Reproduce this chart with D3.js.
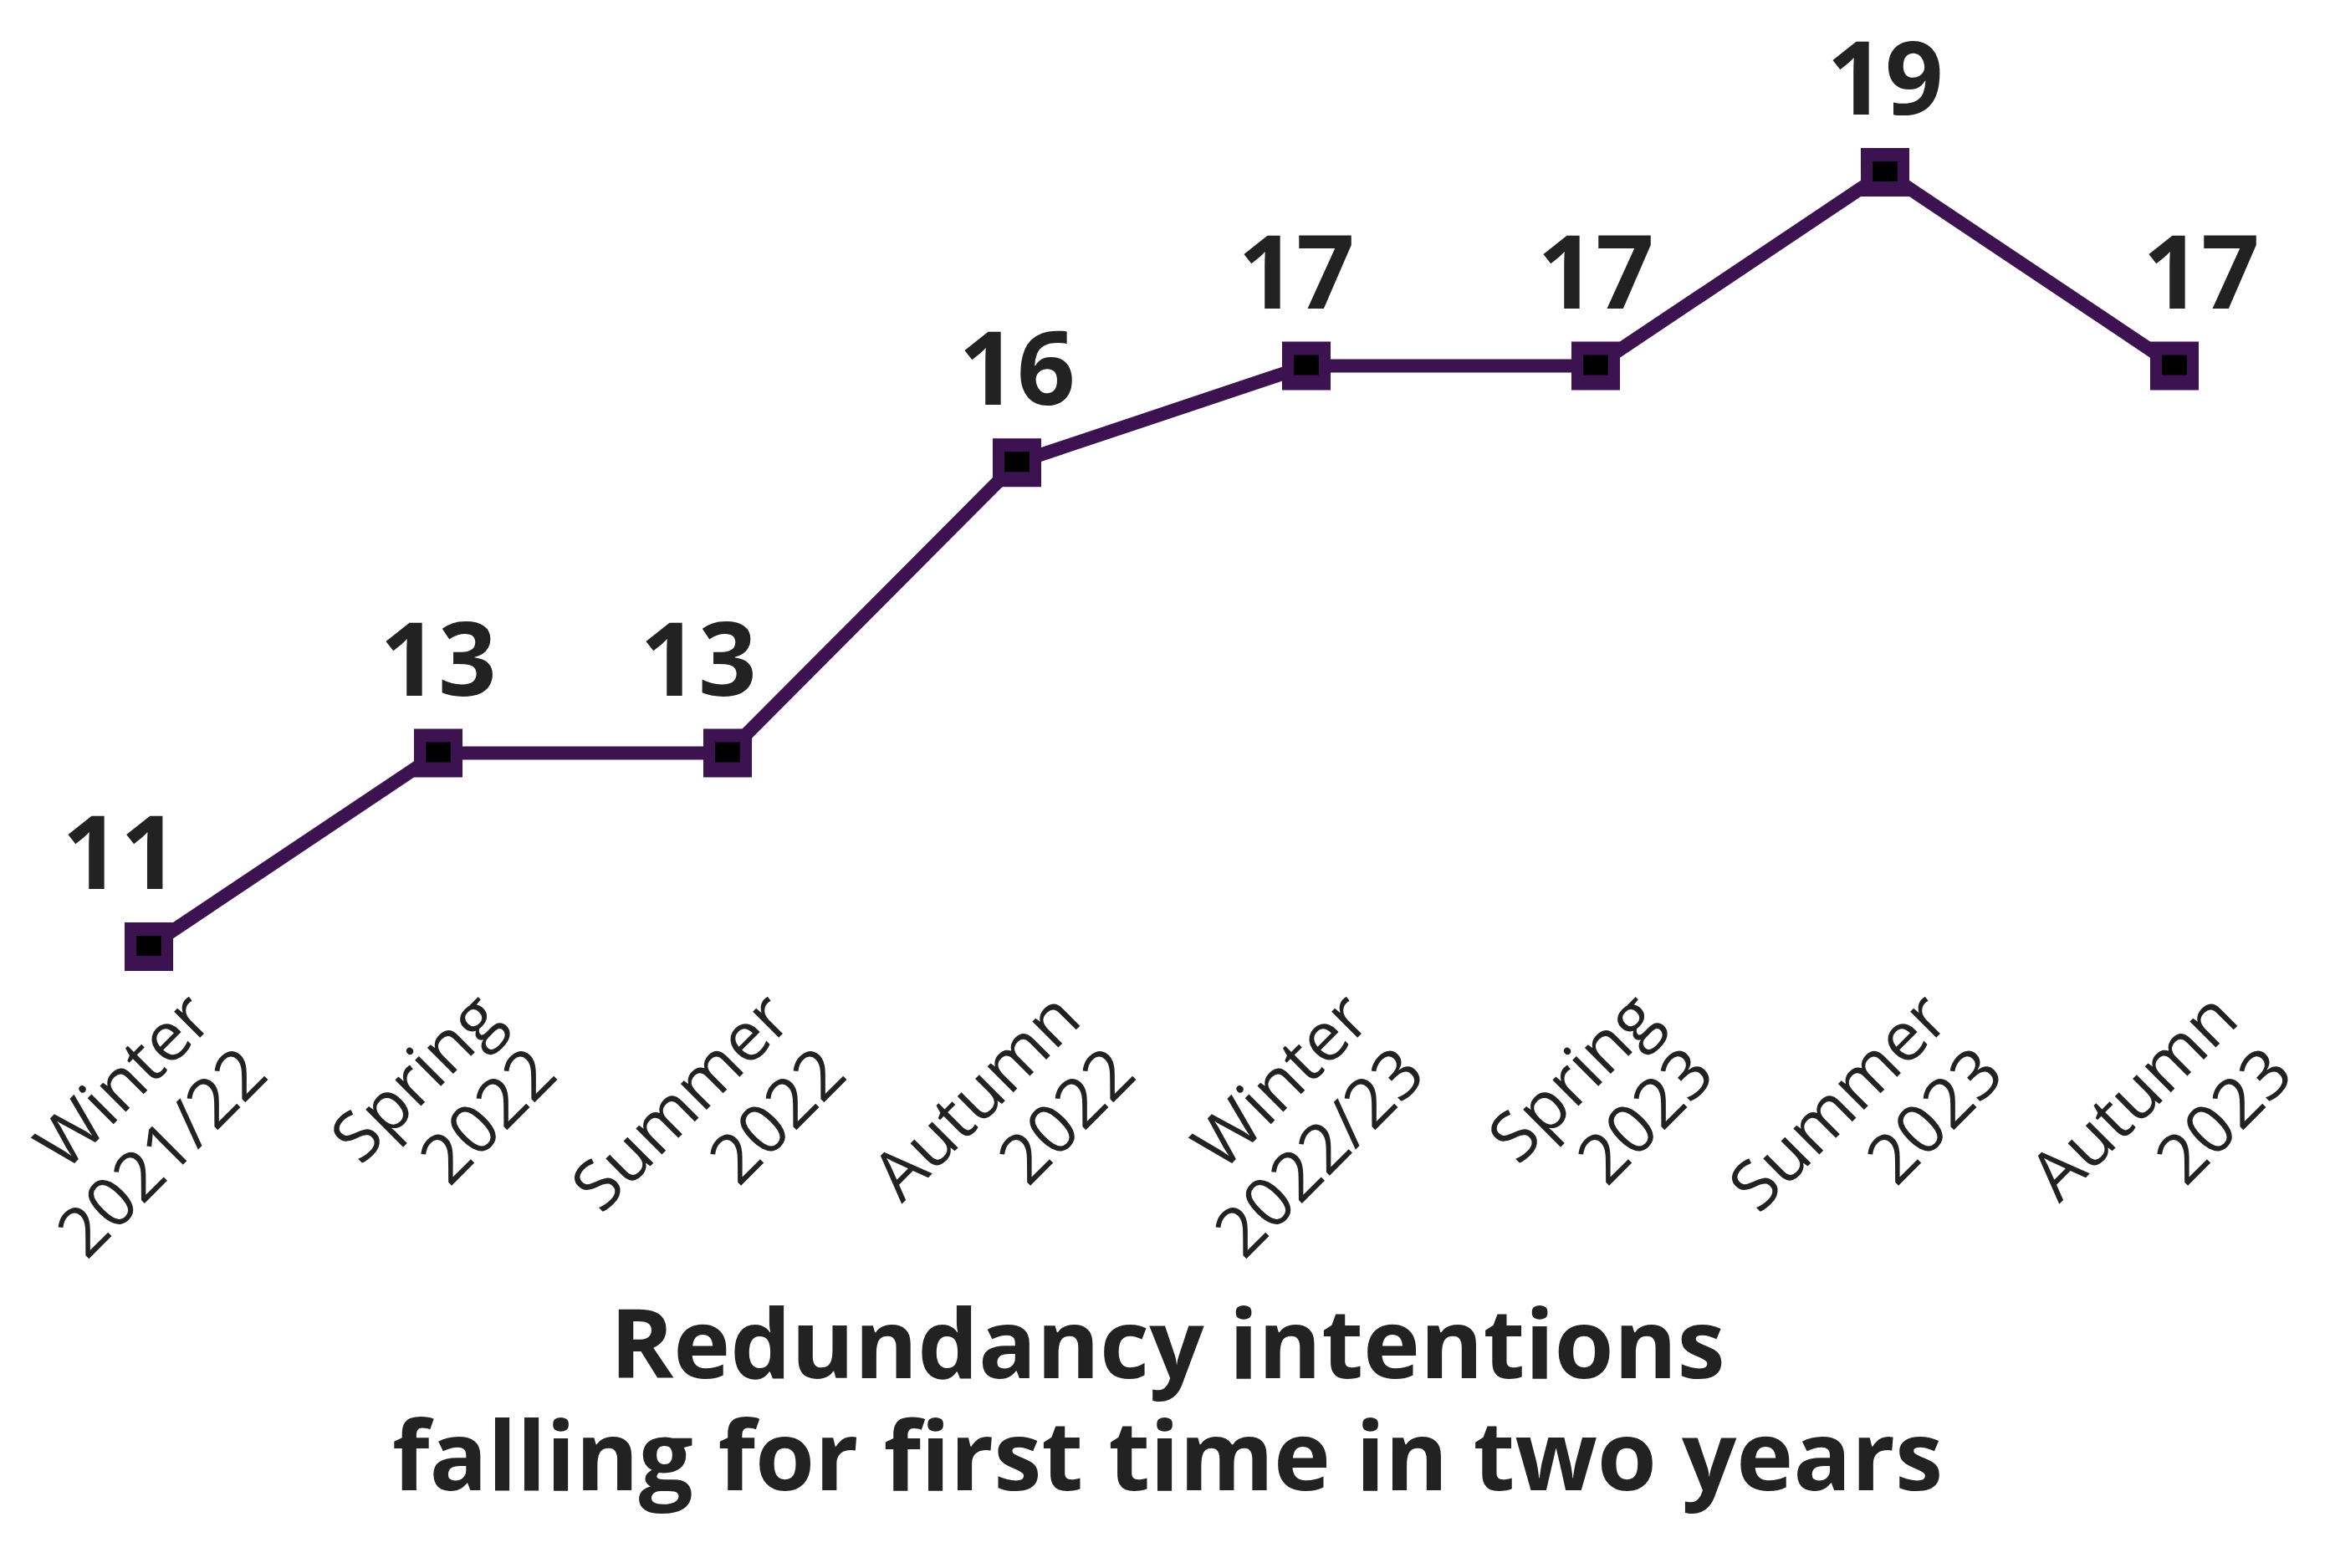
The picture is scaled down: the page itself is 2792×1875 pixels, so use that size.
<!DOCTYPE html>
<html>
<head>
<meta charset="utf-8">
<script src="https://cdn.jsdelivr.net/npm/d3@7"></script>
<style>
  body { margin: 0; background: #fff; }
</style>
</head>
<body>
<div class="chart"></div>
<script>
// seasons on the x axis, two lines each
const seasons = ["Winter", "Spring", "Summer", "Autumn", "Winter", "Spring", "Summer", "Autumn"]
const years = ["2021/22", "2022", "2022", "2022", "2022/23", "2023", "2023", "2023"]
const values = [11, 13, 13, 16, 17, 17, 19, 17]
const title = ["Redundancy intentions", "falling for first time in two years"]

const width = 2792
const height = 1875
const purple = "#3d1251"
const ink = "#222222"

const datas = values.map((v, i) => ({ season: seasons[i], year: years[i], value: v }))

const x = d3.scalePoint()
  .domain(d3.range(values.length))
  .range([178, 2600])

const y = d3.scaleLinear()
  .domain([11, 19])
  .range([1132, 206])

const svg = d3.select('.chart')
  .append('svg')
  .attr('width', width)
  .attr('height', height)
  .style('background', '#fff')

const line = d3.line()
  .x((d, i) => x(i))
  .y(d => y(d.value))

svg.append('path')
  .datum(datas)
  .attr('d', line)
  .attr('fill', 'none')
  .attr('stroke', purple)
  .attr('stroke-width', 16)
  .attr('stroke-linejoin', 'miter')

// square markers with a small black centre
const marks = svg.selectAll('g.mark')
  .data(datas)
  .enter()
  .append('g')
  .attr('class', 'mark')
  .attr('transform', (d, i) => `translate(${x(i)},${y(d.value)})`)

marks.append('rect')
  .attr('x', -29).attr('y', -29)
  .attr('width', 58).attr('height', 58)
  .attr('fill', purple)

marks.append('rect')
  .attr('x', -15).attr('y', -13)
  .attr('width', 30).attr('height', 24)
  .attr('fill', '#000')

// value labels, a few nudged sideways to keep clear of the line
svg.selectAll('text.value')
  .data(datas)
  .enter()
  .append('text')
  .attr('class', 'value')
  .attr('x', (d, i) => {
    if (i === 0) return x(i) - 34
    if (i === 2) return x(i) - 35
    if (i === 4) return x(i) - 12
    if (i === datas.length - 1) return x(i) + 32
    return x(i)
  })
  .attr('y', d => y(d.value) - 69)
  .attr('text-anchor', 'middle')
  .attr('font-family', 'Open Sans, sans-serif')
  .attr('font-weight', 700)
  .attr('font-size', 122)
  .attr('fill', ink)
  .text(d => d.value)

// rotated category labels
const ticks = svg.selectAll('text.tick')
  .data(datas)
  .enter()
  .append('text')
  .attr('class', 'tick')
  .attr('transform', (d, i) => `translate(${x(i) + 80},1222) rotate(-45)`)
  .attr('text-anchor', 'end')
  .attr('font-family', 'Open Sans, sans-serif')
  .attr('font-weight', 400)
  .attr('font-size', 82)
  .attr('fill', ink)

ticks.append('tspan')
  .attr('x', 0).attr('y', 0)
  .text(d => d.season)

ticks.append('tspan')
  .attr('x', 0).attr('y', 93)
  .text(d => d.year)

// title underneath
svg.selectAll('text.title')
  .data(title)
  .enter()
  .append('text')
  .attr('class', 'title')
  .attr('x', width / 2)
  .attr('y', (d, i) => 1648 + i * 134)
  .attr('text-anchor', 'middle')
  .attr('font-family', 'Open Sans, sans-serif')
  .attr('font-weight', 700)
  .attr('font-size', 115)
  .attr('fill', ink)
  .text(d => d)
</script>
</body>
</html>
